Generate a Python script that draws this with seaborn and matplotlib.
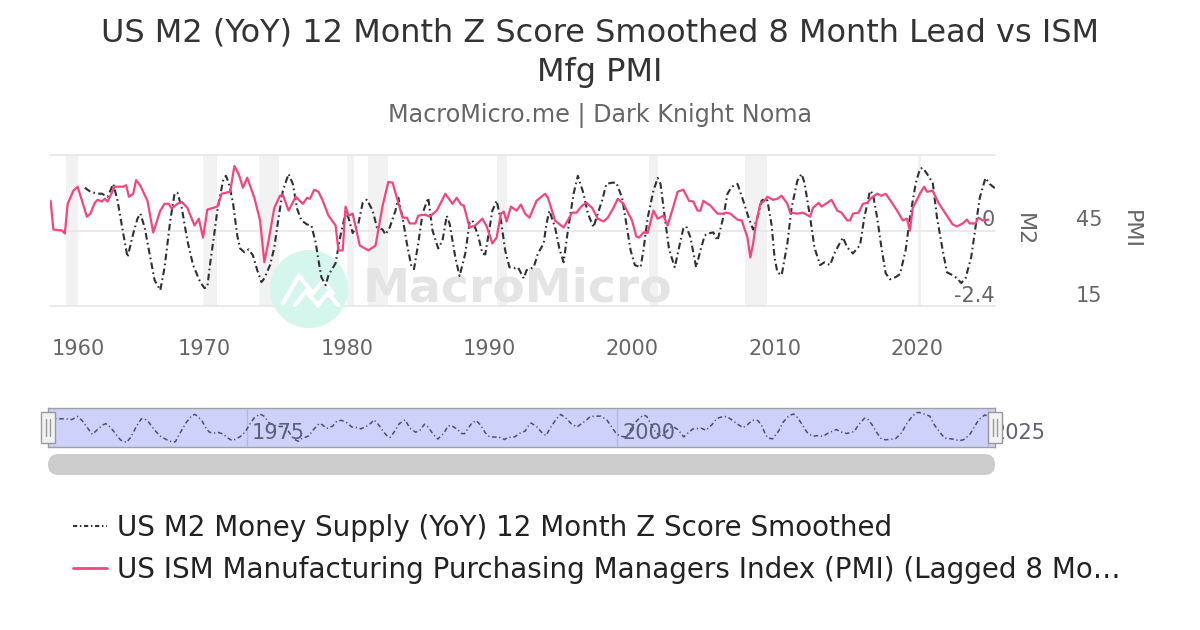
import numpy as np
import pandas as pd
import matplotlib
matplotlib.use("Agg")
import matplotlib.pyplot as plt
import matplotlib.transforms as mtransforms
from matplotlib.patches import Circle, Rectangle, FancyBboxPatch
from matplotlib.lines import Line2D
import seaborn as sns

# ---------------- DATA ----------------
title_l1 = "US M2 (YoY) 12 Month Z Score Smoothed 8 Month Lead vs ISM"
title_l2 = "Mfg PMI"
subtitle = "MacroMicro.me | Dark Knight Noma"
m2_name = "US M2 Money Supply (YoY) 12 Month Z Score Smoothed"
pmi_name = "US ISM Manufacturing Purchasing Managers Index (PMI) (Lagged 8 Mo…"

# recession bands (decimal years)
rec_start = [1960.25, 1969.9, 1973.8, 1980.0, 1981.5, 1990.5, 2001.2, 2007.9, 2020.1]
rec_end = [1961.1, 1970.85, 1975.2, 1980.5, 1982.85, 1991.2, 2001.85, 2009.45, 2020.3]

# M2 z score (left scale)
m2_year = [1961.6, 1962.0, 1962.5, 1962.8, 1963.2, 1963.6, 1963.9, 1964.3, 1964.6, 1965.0,
           1965.3, 1965.5, 1965.8, 1966.2, 1966.5, 1966.9, 1967.2, 1967.6, 1967.9, 1968.1,
           1968.4, 1968.8, 1969.2, 1969.7, 1970.0, 1970.2, 1970.4, 1970.7, 1970.9, 1971.3,
           1971.5, 1971.7, 1972.0, 1972.3, 1972.5, 1972.8, 1973.1, 1973.4, 1973.7, 1974.0,
           1974.2, 1974.6, 1974.9, 1975.2, 1975.5, 1975.9, 1976.2, 1976.5, 1976.8, 1977.2,
           1977.5, 1977.8, 1978.0, 1978.2, 1978.5, 1978.7, 1979.2, 1979.5, 1979.9, 1980.1,
           1980.4, 1980.8, 1981.1, 1981.4, 1981.8, 1982.1, 1982.5, 1982.7, 1983.0, 1983.4,
           1983.6, 1983.9, 1984.2, 1984.5, 1984.7, 1985.0, 1985.3, 1985.7, 1986.0, 1986.4,
           1986.7, 1987.0, 1987.2, 1987.6, 1987.9, 1988.3, 1988.6, 1988.8, 1989.2, 1989.5,
           1989.7, 1990.0, 1990.2, 1990.5, 1990.8, 1991.1, 1991.4, 1991.8, 1992.0, 1992.4,
           1992.6, 1993.1, 1993.4, 1993.8, 1994.0, 1994.2, 1994.6, 1994.9, 1995.2, 1995.5,
           1995.9, 1996.2, 1996.6, 1996.9, 1997.3, 1997.5, 1997.9, 1998.2, 1998.6, 1998.9,
           1999.3, 1999.6, 1999.9, 2000.2, 2000.6, 2000.8, 2001.1, 2001.5, 2001.8, 2002.0,
           2002.3, 2002.6, 2003.0, 2003.3, 2003.6, 2003.8, 2004.1, 2004.5, 2004.8, 2005.1,
           2005.3, 2005.7, 2006.0, 2006.4, 2006.7, 2007.0, 2007.4, 2007.8, 2008.2, 2008.5,
           2008.8, 2009.1, 2009.3, 2009.5, 2009.8, 2010.0, 2010.2, 2010.5, 2010.9, 2011.2,
           2011.6, 2011.9, 2012.1, 2012.5, 2012.8, 2013.2, 2013.5, 2013.9, 2014.2, 2014.5,
           2014.8, 2015.1, 2015.5, 2015.8, 2016.0, 2016.3, 2016.7, 2016.9, 2017.2, 2017.5,
           2017.8, 2018.1, 2018.5, 2018.8, 2019.2, 2019.5, 2019.9, 2020.2, 2020.4, 2020.7,
           2021.1, 2021.4, 2021.8, 2022.1, 2022.5, 2022.8, 2023.1, 2023.4, 2023.8, 2024.1,
           2024.4, 2024.8, 2025.1, 2025.5]
m2_z = [1.36, 1.23, 1.17, 1.17, 1.07, 1.48, 0.95, -0.10, -0.85, -0.10,
        0.38, 0.54, 0.10, -0.85, -1.58, -1.90, -1.17, 0.32, 1.17, 1.20,
        0.73, -0.32, -1.10, -1.64, -1.83, -1.80, -1.04, -0.06, 0.63, 1.58,
        1.74, 1.52, 0.88, -0.16, -0.57, -0.69, -0.60, -0.79, -1.26, -1.64,
        -1.52, -1.10, -0.54, 0.41, 1.26, 1.80, 1.48, 0.69, 0.32, 0.19,
        0.16, -0.38, -0.95, -1.48, -1.74, -1.42, -1.04, -0.25, 0.57, 0.41,
        -0.08, 0.22, 0.88, 0.98, 0.63, 0.10, 0.03, -0.13, 0.10, 0.63,
        1.04, 0.41, -0.41, -1.10, -1.23, -0.41, 0.54, 1.04, 0.00, -0.57,
        -0.32, 0.47, 0.22, -0.85, -1.45, -0.73, 0.25, 0.32, -0.16, -0.73,
        -0.76, 0.06, 0.63, 0.95, 0.32, -0.63, -1.17, -1.20, -1.17, -1.52,
        -1.26, -1.17, -0.73, -0.41, 0.22, 0.63, 0.10, -0.57, -1.01, 0.00,
        1.17, 1.74, 1.17, 0.54, 0.10, 0.41, 0.95, 1.48, 1.52, 1.52,
        1.04, 0.22, -0.63, -1.10, -1.17, -0.63, 0.41, 1.26, 1.67, 1.48,
        0.41, -0.60, -1.17, -0.54, 0.06, 0.13, -0.22, -1.17, -0.63, -0.16,
        -0.10, -0.06, -0.32, 0.41, 1.17, 1.39, 1.48, 0.95, 0.38, 0.03,
        0.41, 0.95, 1.01, 0.95, 0.16, -0.85, -1.33, -1.42, -0.41, 0.73,
        1.58, 1.80, 1.52, 0.41, -0.54, -1.10, -1.01, -1.10, -0.73, -0.47,
        -0.22, -0.54, -0.73, -0.57, -0.47, 0.41, 1.26, 1.17, 0.41, -0.54,
        -1.36, -1.55, -1.48, -1.39, -0.63, 0.41, 1.48, 1.96, 1.99, 1.80,
        1.52, 0.41, -0.63, -1.33, -1.42, -1.52, -1.67, -1.52, -0.85, 0.10,
        1.04, 1.67, 1.48, 1.33]

# ISM PMI (right scale)
pmi_year = [1959.2, 1959.4, 1960.0, 1960.2, 1960.4, 1960.8, 1961.1, 1961.75, 1962.0, 1962.3,
            1962.5, 1962.8, 1963.0, 1963.2, 1963.7, 1964.3, 1964.5, 1964.7, 1965.0, 1965.2,
            1965.5, 1966.0, 1966.4, 1966.9, 1967.2, 1967.5, 1967.7, 1968.1, 1968.4, 1968.8,
            1969.3, 1969.6, 1969.9, 1970.2, 1970.9, 1971.2, 1971.8, 1972.1, 1972.4, 1972.7,
            1973.0, 1973.3, 1973.5, 1973.9, 1974.2, 1974.5, 1974.9, 1975.3, 1975.5, 1975.9,
            1976.4, 1976.9, 1977.2, 1977.4, 1977.7, 1978.0, 1978.3, 1978.7, 1979.2, 1979.4,
            1979.7, 1979.9, 1980.1, 1980.4, 1980.9, 1981.5, 1982.0, 1982.5, 1982.9, 1983.2,
            1983.6, 1983.9, 1984.2, 1984.4, 1984.8, 1985.0, 1985.5, 1985.8, 1986.3, 1986.9,
            1987.4, 1987.7, 1988.0, 1988.2, 1988.6, 1989.0, 1989.5, 1989.8, 1990.2, 1990.5,
            1990.8, 1991.0, 1991.2, 1991.5, 1991.9, 1992.2, 1992.5, 1992.8, 1993.3, 1993.9,
            1994.1, 1994.6, 1995.2, 1995.8, 1996.1, 1996.5, 1996.8, 1997.2, 1997.6, 1998.0,
            1998.3, 1998.7, 1999.0, 1999.4, 2000.0, 2000.3, 2000.5, 2000.8, 2001.1, 2001.5,
            2001.8, 2002.2, 2002.5, 2002.9, 2003.2, 2003.6, 2004.0, 2004.3, 2004.6, 2004.8,
            2005.0, 2005.5, 2006.0, 2006.4, 2006.6, 2006.9, 2007.4, 2007.7, 2008.1, 2008.3,
            2008.5, 2008.7, 2009.0, 2009.3, 2009.5, 2009.9, 2010.2, 2010.5, 2010.9, 2011.1,
            2011.6, 2012.0, 2012.5, 2012.7, 2013.1, 2013.3, 2013.7, 2014.0, 2014.4, 2014.7,
            2015.1, 2015.3, 2015.5, 2015.9, 2016.2, 2016.5, 2016.8, 2017.2, 2017.5, 2017.8,
            2018.1, 2018.6, 2019.0, 2019.3, 2019.5, 2019.7, 2020.2, 2020.5, 2020.7, 2021.1,
            2021.5, 2022.0, 2022.5, 2022.8, 2023.2, 2023.5, 2023.7, 2024.1, 2024.3, 2024.6,
            2025.0]
pmi_val = [56.8, 45.4, 45.0, 43.8, 55.6, 60.8, 62.4, 50.5, 51.7, 56.0,
           57.2, 56.5, 57.6, 56.5, 62.4, 62.4, 63.0, 58.4, 59.6, 65.0,
           62.8, 56.8, 44.2, 52.9, 55.6, 55.6, 53.7, 55.6, 56.4, 54.0,
           47.0, 49.7, 42.2, 53.3, 54.5, 59.6, 60.4, 70.6, 67.5, 62.0,
           66.0, 61.2, 58.0, 49.0, 32.4, 41.0, 54.0, 58.8, 59.2, 52.9,
           58.4, 55.6, 58.0, 57.6, 61.2, 60.4, 56.8, 50.9, 47.0, 37.1,
           37.1, 54.5, 50.9, 51.7, 39.0, 37.1, 39.0, 54.9, 64.3, 64.0,
           56.0, 50.1, 50.1, 47.8, 47.8, 50.9, 51.3, 50.5, 52.9, 59.6,
           55.6, 58.0, 55.3, 54.9, 46.2, 47.0, 49.7, 46.6, 39.9, 42.2,
           51.7, 52.5, 48.6, 54.5, 52.9, 55.3, 51.7, 50.1, 56.8, 59.6,
           58.0, 48.9, 46.2, 52.1, 52.1, 54.9, 56.0, 54.0, 49.7, 48.6,
           50.1, 54.0, 57.6, 55.6, 49.0, 42.6, 42.2, 44.2, 44.0, 52.9,
           49.7, 50.9, 47.0, 54.5, 60.4, 61.2, 56.8, 56.5, 52.9, 52.9,
           56.8, 54.9, 51.7, 51.7, 52.1, 51.7, 49.3, 49.0, 42.2, 34.3,
           39.9, 47.8, 55.6, 56.8, 58.4, 57.2, 57.6, 58.8, 55.6, 52.1,
           51.7, 52.1, 50.5, 54.0, 56.0, 54.5, 56.0, 57.2, 52.9, 52.1,
           49.0, 49.0, 51.7, 52.1, 55.6, 56.0, 58.0, 59.6, 58.8, 59.6,
           57.2, 52.9, 49.0, 49.7, 45.0, 54.0, 59.6, 62.4, 60.4, 60.8,
           56.0, 51.7, 47.4, 46.6, 47.8, 49.3, 47.8, 47.8, 50.1, 49.0,
           49.3]

x_ticks = [1960, 1970, 1980, 1990, 2000, 2010, 2020]
m2_ticks = [-2.4, 0, 2.4]
m2_tick_labels = ["-2.4", "0", ""]
pmi_ticks = [15, 45, 75]
pmi_tick_labels = ["15", "45", ""]
nav_ticks = [1975, 2000, 2025]

m2_df = pd.DataFrame({"year": m2_year, "z": m2_z})
pmi_df = pd.DataFrame({"year": pmi_year, "pmi": pmi_val})

# ---------------- STYLE ----------------
sns.set_style("white")
plt.rcParams["font.family"] = ["DejaVu Sans"]

W, H = 1200, 630
PINK = "#f2467c"
DARK = "#2e2f38"
GREY_TXT = "#666666"
M2_DASH = (0, (3.2, 1.6, 0.8, 1.6))


def fx(px):
    return px / W


def fy(py):
    return 1 - py / H


fig = plt.figure(figsize=(12, 6.3), dpi=100)
fig.patch.set_facecolor("white")

# ---------------- MAIN CHART ----------------
ax = fig.add_axes([fx(50), fy(306), fx(995) - fx(50), fy(155) - fy(306)])
ax2 = ax.twinx()

for s, e in zip(rec_start, rec_end):
    ax.axvspan(s, e, color="#f2f2f2", lw=0, zorder=0.2)

# watermark
logo = Circle((3.09, (H - 289) / 100), 0.39, transform=fig.dpi_scale_trans,
              facecolor="#d5f6ed", edgecolor="none", zorder=1.5, clip_on=False)
ax.add_artist(logo)
for pts in ([(-26, 14), (-10, -13), (4, 4), (14, -8), (24, 4)],
            [(-14, 16), (-3, 2), (9, 16), (19, 4), (29, 16)]):
    xs = [(309 + p[0]) / 100 for p in pts]
    ys = [(H - 289 - p[1]) / 100 for p in pts]
    ax.add_artist(Line2D(xs, ys, transform=fig.dpi_scale_trans, color="white",
                         lw=3, zorder=1.6, clip_on=False, solid_joinstyle="miter"))
ax.text(fx(517), fy(289), "MacroMicro", transform=fig.transFigure, ha="center",
        va="center", fontsize=34, fontweight="bold", color="#e4e4e4", zorder=1.5)

sns.lineplot(data=m2_df, x="year", y="z", ax=ax, color=DARK, lw=1.5,
             linestyle=M2_DASH, zorder=3)
sns.lineplot(data=pmi_df, x="year", y="pmi", ax=ax2, color=PINK, lw=1.6, zorder=3)

ax.set_xlim(1959.16, 2025.47)
ax.set_ylim(-2.4, 2.4)
ax2.set_ylim(15, 75)
ax.set_xlabel("")
ax.set_ylabel("")
ax2.set_ylabel("")

for a in (ax, ax2):
    for sp in a.spines.values():
        sp.set_visible(False)

ax.set_axisbelow(True)
ax.yaxis.tick_right()
ax.set_yticks(m2_ticks, m2_tick_labels, ha="right", va="bottom")
ax.tick_params(axis="y", length=0, pad=0, labelsize=15, labelcolor=GREY_TXT)
ax.grid(axis="y", color="#e6e6e6", lw=1.2)
ax.grid(axis="x", visible=False)
for gl in ax.get_ygridlines():
    gl.set_clip_on(False)

ax2.set_yticks(pmi_ticks, pmi_tick_labels, va="bottom")
ax2.tick_params(axis="y", length=0, pad=58, labelsize=15, labelcolor=GREY_TXT)
ax2.grid(False)

ax.set_xticks(x_ticks, [str(t) for t in x_ticks])
ax.tick_params(axis="x", length=13, width=1, color="#cccccc", pad=11,
               labelsize=15, labelcolor=GREY_TXT)
first = ax.get_xticklabels()[0]
first.set_transform(first.get_transform() +
                    mtransforms.ScaledTranslation(0.16, 0, fig.dpi_scale_trans))

fig.text(fx(1024), fy(230), "M2", rotation=270, ha="center", va="center",
         fontsize=16, color=GREY_TXT)
fig.text(fx(1131), fy(230), "PMI", rotation=270, ha="center", va="center",
         fontsize=16, color=GREY_TXT)

# ---------------- TITLES ----------------
fig.text(0.5, fy(33), title_l1, ha="center", va="center", fontsize=23, color="#333333")
fig.text(0.5, fy(72), title_l2, ha="center", va="center", fontsize=23, color="#333333")
fig.text(0.5, fy(116), subtitle, ha="center", va="center", fontsize=17.2, color=GREY_TXT)

# ---------------- NAVIGATOR ----------------
nav = fig.add_axes([fx(48), fy(447), fx(995) - fx(48), fy(408) - fy(447)])
nav.set_facecolor("#ced2fa")
sns.lineplot(data=m2_df, x="year", y="z", ax=nav, color="#4a4e70", lw=1.1,
             linestyle=(0, (3, 1.8, 0.8, 1.8)))
nav.set_xlim(m2_df["year"].min(), m2_df["year"].max())
pad = 0.15 * (m2_df["z"].max() - m2_df["z"].min())
nav.set_ylim(m2_df["z"].min() - pad, m2_df["z"].max() + pad)
nav.set_xticks(nav_ticks)
nav.set_yticks([])
nav.tick_params(axis="x", length=0, labelbottom=False)
nav.grid(axis="x", color="#b4b9e6", lw=1)
nav.set_xlabel("")
nav.set_ylabel("")
for sp in nav.spines.values():
    sp.set_color("#a0a0a0")
    sp.set_linewidth(1)
btrans = mtransforms.blended_transform_factory(nav.transData, nav.transAxes)
for t in nav_ticks:
    nav.text(t + 0.35, 0.36, str(t), transform=btrans, ha="left", va="center",
             fontsize=15, color="#5c5f78", clip_on=False)

for cx in (48, 995):
    fig.add_artist(Rectangle((fx(cx - 7), fy(443)), 14 / W, 31 / H,
                             transform=fig.transFigure, facecolor="#f2f2f2",
                             edgecolor="#999999", lw=1))
    for lx in (cx - 2, cx + 1.5):
        fig.add_artist(Line2D([fx(lx)] * 2, [fy(436), fy(419)],
                              transform=fig.transFigure, color="#999999", lw=1))

fig.add_artist(FancyBboxPatch((0.48, (H - 475) / 100), 9.47, 0.21,
                              boxstyle="round,pad=0,rounding_size=0.105",
                              transform=fig.dpi_scale_trans,
                              facecolor="#cccccc", edgecolor="none"))

# ---------------- LEGEND ----------------
handles = [Line2D([], [], color=DARK, lw=1.5, linestyle=(0, (2, 1.3, 0.7, 1.3))),
           Line2D([], [], color=PINK, lw=2)]
fig.legend(handles, [m2_name, pmi_name], loc="upper left",
           bbox_to_anchor=(fx(73), fy(514)), frameon=False, fontsize=20,
           handlelength=1.22, handletextpad=0.36, labelspacing=0.5,
           borderaxespad=0, borderpad=0, labelcolor="#222222")

fig.savefig("out.png", dpi=100, facecolor="white")
